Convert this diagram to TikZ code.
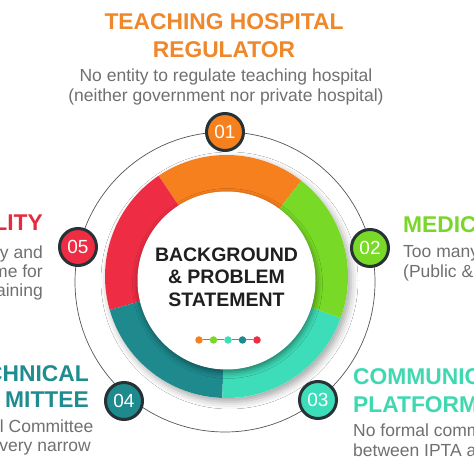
\documentclass[tikz,border=0pt]{standalone}
\usepackage{fontspec}
\setmainfont{Liberation Sans}
\usetikzlibrary{shadows.blur}
\definecolor{segorange}{HTML}{F7801E}
\definecolor{seggreen}{HTML}{78DA26}
\definecolor{segcyan}{HTML}{3EDDB9}
\definecolor{segteal}{HTML}{1E8A8E}
\definecolor{segred}{HTML}{EE2D45}
\definecolor{ttlorange}{HTML}{F0872A}
\definecolor{ttlgreen}{HTML}{7AD62B}
\definecolor{ttlcyan}{HTML}{3FD8B0}
\definecolor{ttlteal}{HTML}{1F8C8F}
\definecolor{ttlred}{HTML}{E42B42}
\definecolor{descgray}{HTML}{707070}
\definecolor{badgeline}{HTML}{263236}
\definecolor{orbitgray}{HTML}{555555}
\begin{document}
\begin{tikzpicture}[x=1pt,y=1pt,
  title/.style={font=\fontsize{22.8}{26}\selectfont\bfseries, inner sep=0pt},
  desc/.style={font=\fontsize{17.5}{20}\selectfont, text=descgray, inner sep=0pt},
  badge/.style={circle, draw=badgeline, line width=3pt, minimum size=37pt, inner sep=0pt, text=white, font=\fontsize{19}{19}\selectfont},
  smalldot/.style={circle, inner sep=0pt, minimum size=7.5pt},
  centertext/.style={font=\fontsize{19.5}{22.5}\selectfont\bfseries, text=black!88, align=center, inner sep=0pt}]
\useasboundingbox (0,0) rectangle (474,474);
\clip (0,0) rectangle (474,474);
\fill[white] (0,0) rectangle (474,474);

% orbit
\draw[orbitgray, line width=0.7pt] (225,192) circle (150);

% ring shadow
\fill[white, blur shadow={shadow xshift=3pt, shadow yshift=-4pt, shadow blur radius=7pt, shadow opacity=35}] (226.5,197.5) circle (121.5);

% ring segments
\begin{scope}[shift={(226.5,197.5)}]
  \fill[segorange] (52:121.5) arc[start angle=52, end angle=124, radius=121.5] -- (124:80) arc[start angle=124, end angle=52, radius=80] -- cycle;
  \fill[segred] (124:121.5) arc[start angle=124, end angle=196, radius=121.5] -- (196:80) arc[start angle=196, end angle=124, radius=80] -- cycle;
  \fill[segteal] (196:121.5) arc[start angle=196, end angle=268, radius=121.5] -- (268:80) arc[start angle=268, end angle=196, radius=80] -- cycle;
  \fill[segcyan] (268:121.5) arc[start angle=268, end angle=340, radius=121.5] -- (340:80) arc[start angle=340, end angle=268, radius=80] -- cycle;
  \fill[seggreen] (340:121.5) arc[start angle=340, end angle=412, radius=121.5] -- (412:80) arc[start angle=412, end angle=340, radius=80] -- cycle;
\end{scope}

% inner disk
\fill[white, blur shadow={shadow xshift=1pt, shadow yshift=-3pt, shadow blur radius=6pt, shadow opacity=45}] (226.5,193.5) circle (89);

% center text
\node[centertext] (center) at (226.5,197) {BACKGROUND\\\& PROBLEM\\STATEMENT};

% dots
\node[smalldot, fill=segorange] (d1) at (199,134) {};
\node[smalldot, fill=seggreen] (d2) at (213.5,134) {};
\node[smalldot, fill=segcyan] (d3) at (228,134) {};
\node[smalldot, fill=segteal] (d4) at (242.5,134) {};
\node[smalldot, fill=segred] (d5) at (257,134) {};
\draw[gray, line width=1pt] (d1) -- (d2) -- (d3) -- (d4) -- (d5);

% badges
\node[badge, fill=segorange] (b1) at (225,342) {01};
\node[badge, fill=seggreen] (b2) at (370,226) {02};
\node[badge, fill=segcyan] (b3) at (318,74) {03};
\node[badge, fill=segteal] (b4) at (124,73) {04};
\node[badge, fill=segred] (b5) at (78,227) {05};

% top block
\node[title, text=ttlorange, anchor=base] (t1a) at (224,444) {TEACHING HOSPITAL};
\node[title, text=ttlorange, anchor=base] (t1b) at (224,416) {REGULATOR};
\node[desc, anchor=base] (d1a) at (226,392) {No entity to regulate teaching hospital};
\node[desc, anchor=base] (d1b) at (226,372) {(neither government nor private hospital)};

% right block
\node[title, text=ttlgreen, anchor=base west] (t2a) at (403,241) {MEDIC};
\node[desc, anchor=base west] (d2a) at (403,216) {Too many};
\node[desc, anchor=base west] (d2b) at (403,196) {(Public \&};

% left block
\node[title, text=ttlred, anchor=base east] (t5a) at (43,243) {LITY};
\node[desc, anchor=base east] (d5a) at (43,215) {ty and};
\node[desc, anchor=base east] (d5b) at (43,196) {me for};
\node[desc, anchor=base east] (d5c) at (43,177) {aining};

% bottom left block
\node[title, text=ttlteal, anchor=base east] (t4a) at (89,92) {CHNICAL};
\node[title, text=ttlteal, anchor=base east] (t4b) at (89,66) {MITTEE};
\node[desc, anchor=base east] (d4a) at (93.5,41) {l Committee};
\node[desc, anchor=base east] (d4b) at (91,22) {very narrow};

% bottom right block
\node[title, text=ttlcyan, anchor=base west] (t3a) at (353,89) {COMMUNIC};
\node[title, text=ttlcyan, anchor=base west] (t3b) at (353,61) {PLATFORM};
\node[desc, anchor=base west] (d3a) at (353,37) {No formal comm};
\node[desc, anchor=base west] (d3b) at (353,17) {between IPTA a};
\end{tikzpicture}
\end{document}
